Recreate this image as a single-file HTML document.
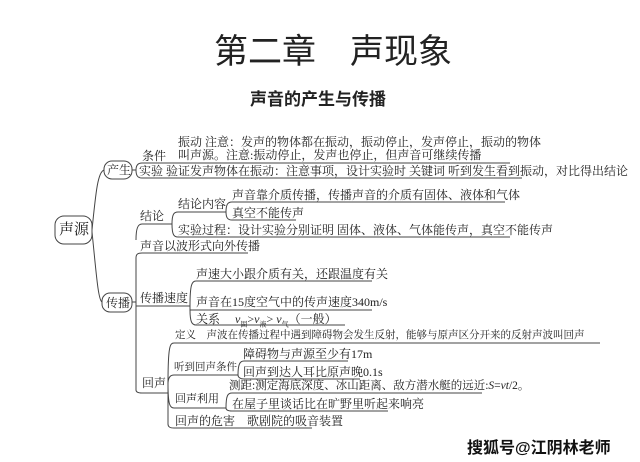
<!DOCTYPE html>
<html><head><meta charset="utf-8"><style>
body{margin:0;background:#fff;}
#c{position:relative;width:640px;height:462px;overflow:hidden;font-family:"Liberation Serif","Noto Serif CJK SC",serif;color:#222;}
.t{position:absolute;font-size:12px;line-height:12px;white-space:nowrap;}
svg{position:absolute;left:0;top:0;}
</style></head><body><div id="c">
<svg width="640" height="462" fill="none" stroke="#444" stroke-width="1">
<path d="M92 230 C96 190 98 172 104 170"/>
<path d="M92 232 C96 270 98 300 102 302"/>
<path d="M132 170 L136 170 C136 165 138 163 142 163 L510 163"/>
<path d="M136 170 C136 176 138 178 142 178 L522 178"/>
<path d="M132 302 L136 302"/>
<path d="M136 390 L136 258 C136 254 138 253 142 253 L248 253"/>
<path d="M136 240 C136 228 138 224 142 224 L172 224"/>
<path d="M136 390 C136 392 138 393 142 393 L168 393"/>
<path d="M172 224 C172 214 174 212 178 212 L226 212"/>
<path d="M172 224 C172 235 174 237 178 237 L510 237"/>
<path d="M226 212 C226 204 228 202 232 202 L505 202"/>
<path d="M226 212 C226 218 228 220 232 220 L296 220"/>
<path d="M136 306 L190 306"/>
<path d="M190 306 C190 284 192 281 196 281 L372 281"/>
<path d="M190 306 L190 310 L372 310"/>
<path d="M190 310 C190 322 192 325 196 325 L345 325"/>
<path d="M168 384 C168 346 170 343 174 343 L600 343"/>
<path d="M168 384 C168 378 170 375 174 375 L238 375"/>
<path d="M238 375 C238 364 240 361 244 361 L348 361"/>
<path d="M238 375 C238 377 240 379 244 379 L360 379"/>
<path d="M168 384 C168 405 170 408 174 408 L226 408"/>
<path d="M226 408 C226 395 228 393 232 393 L482 393"/>
<path d="M226 408 C226 410 228 411 232 411 L388 411"/>
<path d="M168 384 L168 424 C168 427 170 428 174 428 L312 428"/>
<rect x="55" y="216" width="37" height="28" rx="9"/>
<rect x="104" y="161" width="28" height="18" rx="8"/>
<rect x="102" y="293" width="30" height="19" rx="8"/>
</svg>
<div class="t" style="left:214px;top:32px;font-size:34px;line-height:40px;font-family:'Liberation Sans','Noto Sans CJK SC',sans-serif;">第二章　声现象</div>
<div class="t" style="left:250px;top:90px;font-size:17px;line-height:20px;font-weight:bold;font-family:'Liberation Sans','Noto Sans CJK SC',sans-serif;">声音的产生与传播</div>
<div class="t" style="left:59px;top:222px;font-size:15px;line-height:16px;">声源</div>
<div class="t" style="left:107px;top:164px;">产生</div>
<div class="t" style="left:106px;top:297px;">传播</div>
<div class="t" style="left:142px;top:150px;">条件</div>
<div class="t" style="left:178px;top:136px;">振动 注意：发声的物体都在振动，振动停止，发声停止，振动的物体</div>
<div class="t" style="left:178px;top:149px;">叫声源。注意:振动停止，发声也停止，但声音可继续传播</div>
<div class="t" style="left:139px;top:165px;">实验 验证发声物体在振动：注意事项，设计实验时 关键词 听到发生看到振动，对比得出结论</div>
<div class="t" style="left:140px;top:210px;">结论</div>
<div class="t" style="left:178px;top:198px;">结论内容</div>
<div class="t" style="left:232px;top:189px;">声音靠介质传播，传播声音的介质有固体、液体和气体</div>
<div class="t" style="left:232px;top:207px;">真空不能传声</div>
<div class="t" style="left:178px;top:224px;">实验过程：设计实验分别证明 固体、液体、气体能传声，真空不能传声</div>
<div class="t" style="left:140px;top:240px;">声音以波形式向外传播</div>
<div class="t" style="left:140px;top:292px;">传播速度</div>
<div class="t" style="left:196px;top:268px;">声速大小跟介质有关，还跟温度有关</div>
<div class="t" style="left:196px;top:296px;">声音在15度空气中的传声速度340m/s</div>
<div class="t" style="left:196px;top:313px;">关系　 <i>v</i><sub style="font-size:7px">固</sub>&gt;<i>v</i><sub style="font-size:7px">液</sub>&gt; <i>v</i><sub style="font-size:7px">气</sub>（一般）</div>
<div class="t" style="left:175px;top:330px;font-size:10.5px;">定义　声波在传播过程中遇到障碍物会发生反射，能够与原声区分开来的反射声波叫回声</div>
<div class="t" style="left:174px;top:362px;font-size:10.5px;">听到回声条件</div>
<div class="t" style="left:243px;top:348px;">障碍物与声源至少有17m</div>
<div class="t" style="left:243px;top:366px;">回声到达人耳比原声晚0.1s</div>
<div class="t" style="left:142px;top:377px;">回声</div>
<div class="t" style="left:175px;top:393px;font-size:11px;">回声利用</div>
<div class="t" style="left:229px;top:380px;font-size:11.5px;">测距:测定海底深度、冰山距离、敌方潜水艇的远近:<i>S</i>=<i>vt</i>/2。</div>
<div class="t" style="left:232px;top:398px;">在屋子里谈话比在旷野里听起来响亮</div>
<div class="t" style="left:175px;top:415px;">回声的危害　歌剧院的吸音装置</div>
<div class="t" style="left:467px;top:440px;font-size:16px;line-height:18px;font-weight:bold;color:#111;font-family:'Liberation Sans','Noto Sans CJK SC',sans-serif;">搜狐号@江阴林老师</div>
</div></body></html>
